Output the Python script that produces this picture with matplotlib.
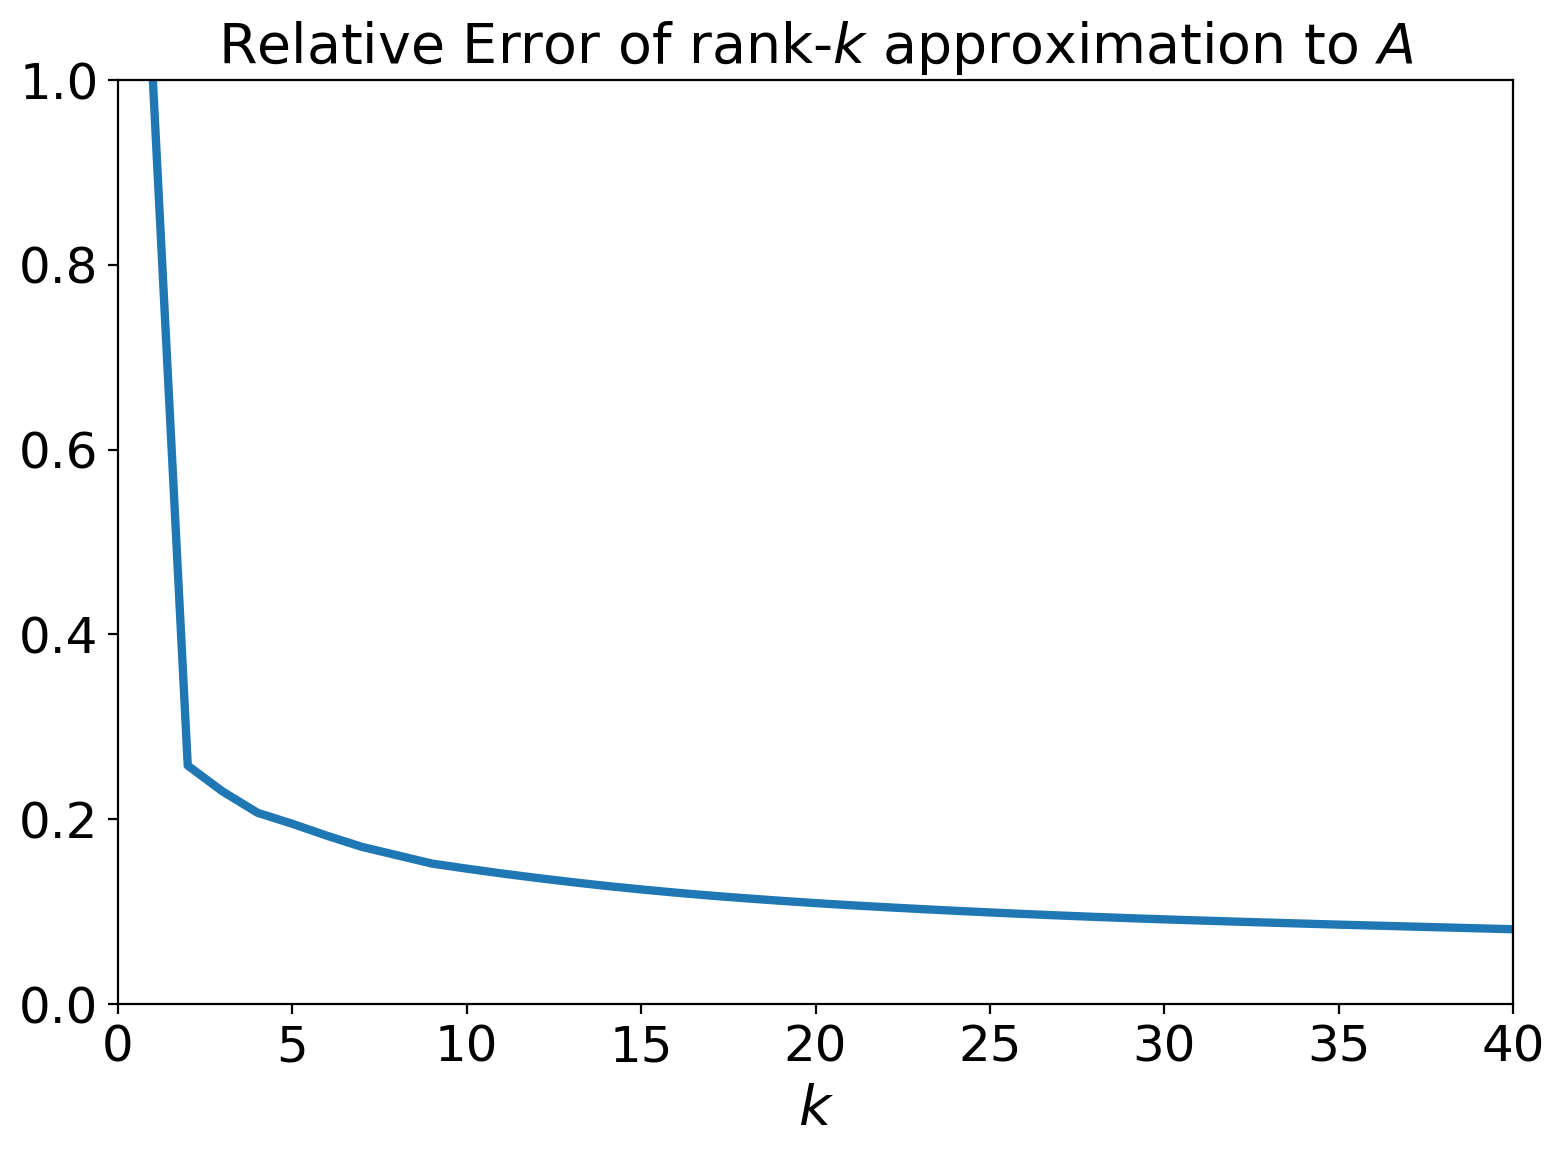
import matplotlib
matplotlib.use("Agg")
import matplotlib.pyplot as plt

# rank k and relative error of the rank-k approximation
k_vals = list(range(1, 41))
rel_err = [
    1.000, 0.258, 0.230, 0.207, 0.195, 0.182, 0.170, 0.161, 0.152, 0.1465,
    0.1413, 0.1365, 0.1320, 0.1278, 0.1240, 0.1205, 0.1173, 0.1144, 0.1117, 0.1092,
    0.1069, 0.1048, 0.1028, 0.1009, 0.0991, 0.0974, 0.0958, 0.0943, 0.0929, 0.0916,
    0.0904, 0.0892, 0.0881, 0.0870, 0.0859, 0.0849, 0.0839, 0.0829, 0.0819, 0.0809,
]

fig = plt.figure(figsize=(1565 / 200, 1157 / 200), dpi=200)
ax = fig.add_axes([118 / 1565, 1 - 1004 / 1157, (1513 - 118) / 1565, (1004 - 80) / 1157])

ax.plot(k_vals, rel_err, color="#1f77b4", linewidth=3)

ax.set_xlim(0, 40)
ax.set_ylim(0, 1)
ax.tick_params(labelsize=18)
ax.set_xlabel("$k$", fontsize=20)
ax.set_title("Relative Error of rank-$k$ approximation to $A$", fontsize=20)

fig.savefig("out.png", dpi=200)
